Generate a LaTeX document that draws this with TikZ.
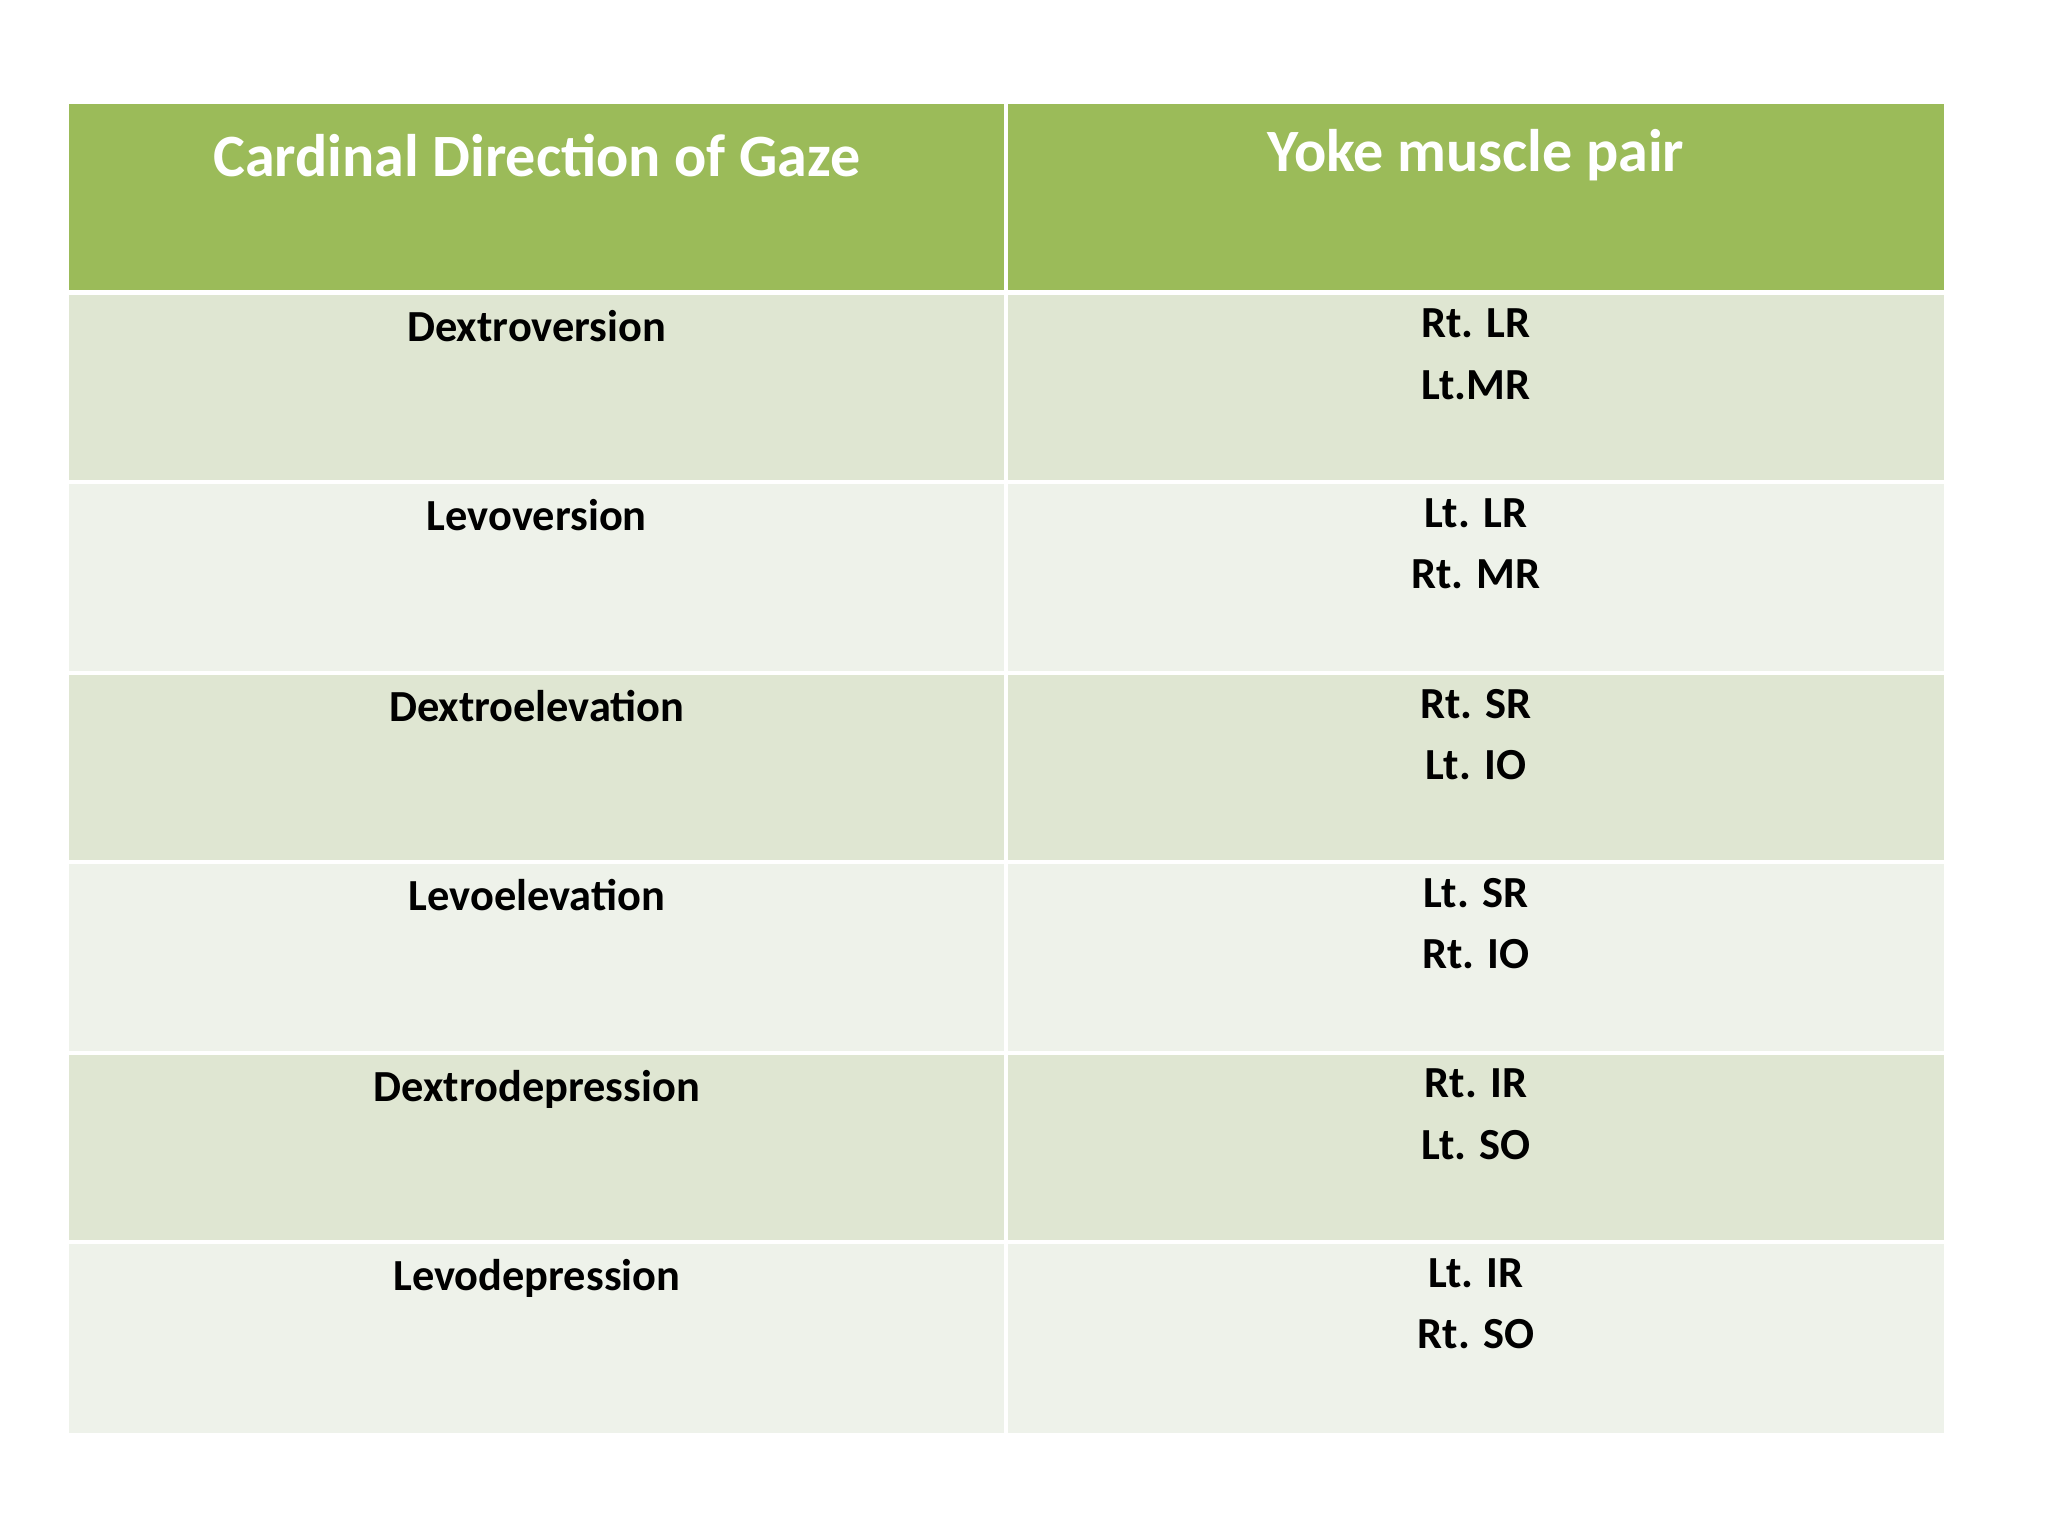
\documentclass[tikz,border=0pt]{standalone}
\usepackage{fontspec}
\setmainfont{Carlito}
\definecolor{hdr}{HTML}{9BBB59}
\definecolor{rowa}{HTML}{DFE6D2}
\definecolor{rowb}{HTML}{EEF2EA}
\begin{document}
\begin{tikzpicture}[x=1pt,y=-1pt,
  cell/.style={draw=white,line width=3pt},
  htxt/.style={font=\fontsize{46}{50}\selectfont\bfseries,text=white},
  btxt/.style={font=\fontsize{34}{47}\selectfont\bfseries,align=center,anchor=north}]
\useasboundingbox (0,0) rectangle (1568,1176);
\fill[white] (0,0) rectangle (1568,1176);
\fill[hdr] (53,80) rectangle (1488,222);
\draw[cell] (770,80) -- (770,222);
\node[htxt] (h1) at (411,119) {Cardinal Direction of Gaze};
\node[htxt] (h2) at (1130,119) {Yoke muscle pair};
\foreach \t/\b/\c/\l/\r [count=\i] in {
 224/369/rowa/Dextroversion/{Rt. LR\\Lt.MR},
 369/515/rowb/Levoversion/{Lt. LR\\Rt. MR},
 515/660/rowa/Dextroelevation/{Rt. SR\\Lt. IO},
 660/806/rowb/Levoelevation/{Lt. SR\\Rt. IO},
 806/951/rowa/Dextrodepression/{Rt. IR\\Lt. SO},
 951/1097/rowb/Levodepression/{Lt. IR\\Rt. SO}}{
  \fill[\c] (53,\t) rectangle (1488,\b);
  \draw[cell] (53,\t) -- (1488,\t);
  \draw[cell] (770,\t) -- (770,\b);
  \node[btxt] (l\i) at (411,\t+10) {\l};
  \node[btxt] (r\i) at (1130,\t+9) {\r};
}
\end{tikzpicture}
\end{document}
